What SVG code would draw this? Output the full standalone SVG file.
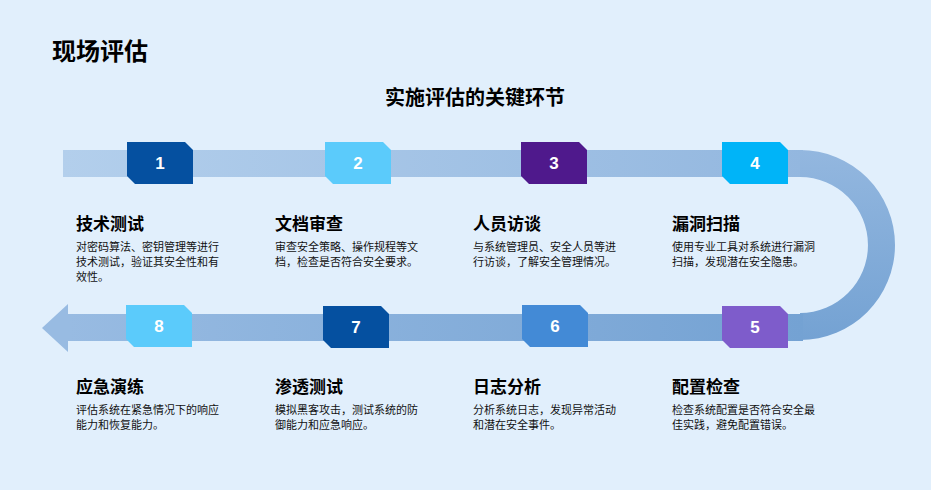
<svg xmlns="http://www.w3.org/2000/svg" width="931" height="490" viewBox="0 0 931 490">
<defs>
<linearGradient id="gt" x1="0" x2="1" y1="0" y2="0"><stop offset="0" stop-color="#B3CFEC"/><stop offset="1" stop-color="#93B7DF"/></linearGradient>
<linearGradient id="gb" x1="0" x2="1" y1="0" y2="0"><stop offset="0" stop-color="#98BBE2"/><stop offset="1" stop-color="#74A2D3"/></linearGradient>
<linearGradient id="ga" x1="0" x2="0" y1="0" y2="1"><stop offset="0" stop-color="#93B7DF"/><stop offset="1" stop-color="#74A2D3"/></linearGradient>
<path id="badge" d="M0,0 H58 L66,8 V42 H8 L0,34 Z"/>
</defs>
<style>
text{font-family:"Noto Sans CJK SC","Liberation Sans",sans-serif;}
.num{font-family:"Liberation Sans",sans-serif;font-size:17px;font-weight:bold;fill:#fff;text-anchor:middle}
.t{font-size:17px;font-weight:bold;fill:#000}
.d{font-size:11px;fill:#111}
</style>
<rect width="931" height="490" fill="#E1EFFC"/>
<text x="52" y="60" font-size="24" font-weight="bold" fill="#000">现场评估</text>
<text x="475" y="105" font-size="20" font-weight="bold" fill="#000" text-anchor="middle">实施评估的关键环节</text>
<g id="connectors">
<rect x="63" y="150" width="740" height="27" fill="url(#gt)"/>
<path d="M800,150 A95,95 0 0 1 800,340 V313 A68,68 0 0 0 800,177 Z" fill="url(#ga)"/>
<rect x="68" y="314" width="735" height="27" fill="url(#gb)"/>
<path d="M42,328 L68,304 V352 Z" fill="#98BBE2"/>
</g>
<g id="n1"><use href="#badge" x="127" y="142" fill="#0550A0"/><text class="num" x="160" y="169">1</text>
<text class="t" x="76" y="230">技术测试</text><text class="d" x="76" y="251">对密码算法、密钥管理等进行</text><text class="d" x="76" y="266">技术测试，验证其安全性和有</text><text class="d" x="76" y="281">效性。</text></g>
<g id="n2"><use href="#badge" x="325" y="142" fill="#5BCBFB"/><text class="num" x="358" y="169">2</text>
<text class="t" x="275" y="230">文档审查</text><text class="d" x="275" y="251">审查安全策略、操作规程等文</text><text class="d" x="275" y="266">档，检查是否符合安全要求。</text></g>
<g id="n3"><use href="#badge" x="521" y="142" fill="#4F198C"/><text class="num" x="554" y="169">3</text>
<text class="t" x="473" y="230">人员访谈</text><text class="d" x="473" y="251">与系统管理员、安全人员等进</text><text class="d" x="473" y="266">行访谈，了解安全管理情况。</text></g>
<g id="n4"><use href="#badge" x="722" y="142" fill="#00B4F8"/><text class="num" x="755" y="169">4</text>
<text class="t" x="672" y="230">漏洞扫描</text><text class="d" x="672" y="251">使用专业工具对系统进行漏洞</text><text class="d" x="672" y="266">扫描，发现潜在安全隐患。</text></g>
<g id="n5"><use href="#badge" x="722" y="306" fill="#7E5CCB"/><text class="num" x="755" y="333">5</text>
<text class="t" x="672" y="393">配置检查</text><text class="d" x="672" y="414">检查系统配置是否符合安全最</text><text class="d" x="672" y="429">佳实践，避免配置错误。</text></g>
<g id="n6"><use href="#badge" x="522" y="305" fill="#438AD6"/><text class="num" x="555" y="332">6</text>
<text class="t" x="473" y="393">日志分析</text><text class="d" x="473" y="414">分析系统日志，发现异常活动</text><text class="d" x="473" y="429">和潜在安全事件。</text></g>
<g id="n7"><use href="#badge" x="323" y="306" fill="#0550A0"/><text class="num" x="356" y="333">7</text>
<text class="t" x="275" y="393">渗透测试</text><text class="d" x="275" y="414">模拟黑客攻击，测试系统的防</text><text class="d" x="275" y="429">御能力和应急响应。</text></g>
<g id="n8"><use href="#badge" x="126" y="305" fill="#5BCBFB"/><text class="num" x="159" y="332">8</text>
<text class="t" x="76" y="393">应急演练</text><text class="d" x="76" y="414">评估系统在紧急情况下的响应</text><text class="d" x="76" y="429">能力和恢复能力。</text></g>
</svg>
